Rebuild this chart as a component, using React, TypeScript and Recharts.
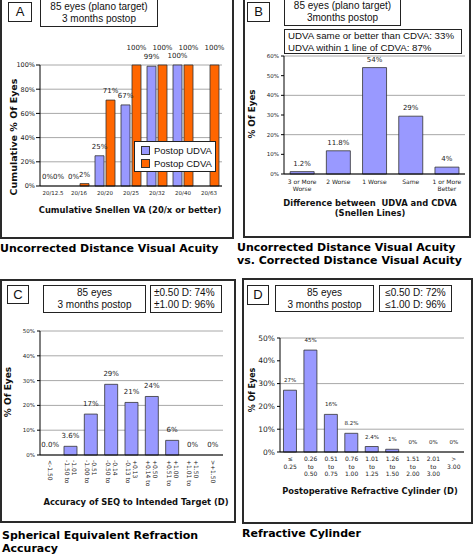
import { ComposedChart, Bar, Line, XAxis, YAxis, CartesianGrid, LabelList, Legend } from 'recharts'

// A: cumulative Snellen VA
const vaCats = ['20/12.5', '20/16', '20/20', '20/25', '20/32', '20/40', '20/63']
const udva = [0, 0, 25, 67, 99, 100, null]
const cdva = [0, 2, 71, 100, 100, 100, 100]
const seriesA = ['Postop UDVA', 'Postop CDVA']

// B: UDVA vs CDVA difference
const diffCats = ['3 or More\nWorse', '2 Worse', '1 Worse', 'Same', '1 or More\nBetter']
const diffVals = [1.2, 11.8, 54.1, 29.4, 3.5]
const diffLabels = ['1.2%', '11.8%', '54%', '29%', '4%']

// C: SEQ accuracy
const seqCats = ['<-1.50', '-1.50 to\n-1.01', '-1.00 to\n-0.51', '-0.50 to\n-0.14', '-0.13 to\n+0.13', '+0.14 to\n+0.50', '+0.51 to\n+1.00', '+1.01 to\n+1.50', '>+1.50']
const seqVals = [0, 3.5, 16.5, 28.5, 21.2, 23.6, 5.9, 0, 0]
const seqLabels = ['0.0%', '3.6%', '17%', '29%', '21%', '24%', '6%', '0%', '0%']

// D: refractive cylinder
const cylCats = ['≤\n0.25', '0.26\nto\n0.50', '0.51\nto\n0.75', '0.76\nto\n1.00', '1.01\nto\n1.25', '1.26\nto\n1.50', '1.51\nto\n2.00', '2.01\nto\n3.00', '>\n3.00']
const cylVals = [27.1, 44.7, 16.5, 8.2, 2.4, 1.2, 0, 0, 0]
const cylLabels = ['27%', '45%', '16%', '8.2%', '2.4%', '1%', '0%', '0%', '0%']

const pct = (v: number | null) => (v == null ? null : `${v}%`)

const dataA = vaCats.map((c, i) => ({ cat: c, udva: udva[i], cdva: cdva[i], lu: pct(udva[i]), lc: pct(cdva[i]) }))
const dataB = diffCats.map((c, i) => ({ cat: c, v: diffVals[i], lbl: diffLabels[i] }))
const dataC = seqCats.map((c, i) => ({ cat: c, v: seqVals[i], lbl: seqLabels[i] }))
const dataD = cylCats.map((c, i) => ({ cat: c, v: cylVals[i], lbl: cylLabels[i] }))

const LAV = '#9999FF'
const ORANGE = '#FF6600'
const GRID = '#a8a8a8'
const TXT = '#222'
const VER = '"DejaVu Sans", Verdana, sans-serif'
const ARIAL = '"Liberation Sans", Arial, sans-serif'

// label drawn at a (hidden) line point, so zero values get one too
const pointLabel = (fontSize: number, gap: number, dx = 0, lift = 0) => (props: any) => {
  const vb = props.viewBox || {}
  const x = props.x ?? vb.x
  const y = props.y ?? vb.y
  const { value } = props
  if (value == null || x == null || y == null) return null
  const extra = value === '100%' ? lift : 0
  return (
    <text x={x + dx} y={y - gap - extra} textAnchor="middle" fontSize={fontSize} fill={TXT} fontFamily={VER}>
      {value}
    </text>
  )
}

const multiTick = (fontSize: number, dy0: number, lineH: number) => (props: any) => {
  const { x, y, payload } = props
  const lines = String(payload.value).split('\n')
  return (
    <text x={x} y={y + dy0} textAnchor="middle" fontSize={fontSize} fill={TXT} fontFamily={VER}>
      {lines.map((l, i) => (
        <tspan key={i} x={x} dy={i === 0 ? 0 : lineH}>{l}</tspan>
      ))}
    </text>
  )
}

const rotTick = (props: any) => {
  const { x, y, payload } = props
  const lines = String(payload.value).split('\n')
  const lh = 7
  const base = 2 + ((lines.length - 1) * lh) / 2
  return (
    <g transform={`translate(${x},${y + 5}) rotate(90)`}>
      {lines.map((l, i) => (
        <text key={i} x={0} y={base - i * lh} textAnchor="start" fontSize={6} fill={TXT} fontFamily={VER}>{l}</text>
      ))}
    </g>
  )
}

const legendA = (props: any) => {
  const items = (props.payload || [])
    .filter((p: any) => p.type !== 'none')
    .sort((a: any, b: any) => seriesA.indexOf(a.value) - seriesA.indexOf(b.value))
  return (
    <div style={{
      width: 82, height: 31, boxSizing: 'border-box', border: '1.5px solid #222', background: '#fff',
      padding: '2px 0 0 6px', fontFamily: ARIAL, fontSize: 9.5, color: '#111',
    }}>
      {items.map((p: any) => (
        <div key={p.value} style={{ display: 'flex', alignItems: 'center', height: 13 }}>
          <span style={{ width: 7, height: 7, background: p.color, border: '1px solid #333', marginRight: 4 }} />
          <span>{p.value}</span>
        </div>
      ))}
    </div>
  )
}

const Box = ({ l, t, w, h, children, style }: any) => (
  <div style={{
    position: 'absolute', left: l, top: t, width: w, height: h, boxSizing: 'border-box',
    border: '1.5px solid #222', background: '#fff', fontFamily: ARIAL, fontSize: 10,
    lineHeight: '12px', color: '#111', display: 'flex', flexDirection: 'column',
    justifyContent: 'center', alignItems: 'center', textAlign: 'center', ...style,
  }}>{children}</div>
)

const Letter = ({ l, t, w, h, c }: any) => (
  <Box l={l} t={t} w={w} h={h} style={{ fontSize: 13 }}>{c}</Box>
)

const VTitle = ({ cx, cy, text, size }: any) => (
  <div style={{
    position: 'absolute', left: cx, top: cy, transform: 'translate(-50%,-50%) rotate(-90deg)',
    whiteSpace: 'nowrap', fontFamily: VER, fontWeight: 'bold', fontSize: size, color: '#111',
  }}>{text}</div>
)

const HTitle = ({ cx, cy, children, size }: any) => (
  <div style={{
    position: 'absolute', left: cx, top: cy, transform: 'translate(-50%,-50%)', textAlign: 'center',
    whiteSpace: 'nowrap', fontFamily: VER, fontWeight: 'bold', fontSize: size, lineHeight: '10px', color: '#111',
  }}>{children}</div>
)

const Caption = ({ l, t, children }: any) => (
  <div style={{
    position: 'absolute', left: l, top: t, whiteSpace: 'nowrap', fontFamily: VER, fontWeight: 'bold',
    fontSize: 11, lineHeight: '13px', color: '#000',
  }}>{children}</div>
)

const Panel = ({ l, t, r, b }: any) => (
  <div style={{ position: 'absolute', left: l, top: t, width: r - l, height: b - t, boxSizing: 'border-box', border: '2px solid #2a2a2a' }} />
)

const abs = (l: number, t: number) => ({ position: 'absolute' as const, left: l, top: t })

const hiddenLine = (key: string, lblKey: string, label: any) => (
  <Line dataKey={key} stroke="none" dot={false} activeDot={false} legendType="none" isAnimationActive={false}>
    <LabelList dataKey={lblKey} content={label} />
  </Line>
)

export default function App() {
  return (
    <div style={{ position: 'absolute', left: 0, top: 0, width: 474, height: 556, background: '#fff', overflow: 'hidden' }}>
      <Panel l={0} t={-2} r={234} b={239} />
      <Panel l={243} t={-2} r={471} b={238} />
      <Panel l={0} t={279} r={236} b={523} />
      <Panel l={242} t={278} r={473} b={524} />

      {/* A */}
      <div style={abs(0, 0)}>
        <ComposedChart width={233} height={200} data={dataA} margin={{ top: 65, right: 11, left: 0, bottom: 0 }} barCategoryGap={3} barGap={2}>
          <CartesianGrid vertical={false} stroke={GRID} />
          <XAxis dataKey="cat" height={14} tickSize={0} tickMargin={0} axisLine={{ stroke: '#000' }} tick={multiTick(5.5, 9, 7)} interval={0} />
          <YAxis width={40} domain={[0, 100]} ticks={[0, 20, 40, 60, 80, 100]} tickFormatter={pct} tickSize={4} tickMargin={1}
            axisLine={{ stroke: '#000' }} tickLine={{ stroke: '#000' }} tick={{ fontSize: 6.5, fill: TXT, fontFamily: VER }} />
          <YAxis yAxisId="r" orientation="right" width={0} tick={false} tickLine={false} axisLine={{ stroke: GRID }} />
          <Legend layout="vertical" align="center" verticalAlign="middle" content={legendA}
            wrapperStyle={{ left: 134, top: 141, width: 82, height: 31 }} />
          <Bar dataKey="udva" name={seriesA[0]} fill={LAV} stroke="#333" strokeWidth={0.8} isAnimationActive={false} />
          <Bar dataKey="cdva" name={seriesA[1]} fill={ORANGE} stroke="#333" strokeWidth={0.8} isAnimationActive={false} />
          {hiddenLine('udva', 'lu', pointLabel(7, 7, -5.5))}
          {hiddenLine('cdva', 'lc', pointLabel(7, 7, 5.5, 8))}
        </ComposedChart>
      </div>
      <Letter l={8} t={2} w={24} h={20} c="A" />
      <Box l={40} t={-2} w={118} h={29}>
        <div>85 eyes (plano target)</div>
        <div>3 months postop</div>
      </Box>
      <VTitle cx={13} cy={137} text="Cumulative % Of Eyes" size={9.5} />
      <HTitle cx={130} cy={210} size={8.4}>Cumulative Snellen VA (20/x or better)</HTitle>
      <Caption l={0} t={242}>Uncorrected Distance Visual Acuity</Caption>

      {/* B */}
      <div style={abs(237, 0)}>
        <ComposedChart width={233} height={200} data={dataB} margin={{ top: 56, right: 5, left: 0, bottom: 0 }} barCategoryGap="17%">
          <CartesianGrid vertical={false} stroke={GRID} />
          <XAxis dataKey="cat" height={26} tickSize={0} tickMargin={0} axisLine={{ stroke: '#000' }} tick={multiTick(6, 10, 7)} interval={0} />
          <YAxis width={47} domain={[0, 60]} ticks={[0, 10, 20, 30, 40, 50, 60]} tickFormatter={pct} tickSize={3} tickMargin={2}
            axisLine={{ stroke: '#000' }} tickLine={{ stroke: '#000' }} tick={{ fontSize: 5.5, fill: TXT, fontFamily: VER }} />
          <YAxis yAxisId="r" orientation="right" width={0} tick={false} tickLine={false} axisLine={{ stroke: GRID }} />
          <Bar dataKey="v" fill={LAV} stroke="#333" strokeWidth={0.8} isAnimationActive={false} />
          {hiddenLine('v', 'lbl', pointLabel(7, 6))}
        </ComposedChart>
      </div>
      <Letter l={247} t={2} w={23} h={20} c="B" />
      <Box l={284} t={-2} w={117} h={28}>
        <div>85 eyes (plano target)</div>
        <div>3months postop</div>
      </Box>
      <Box l={284} t={29} w={178} h={25} style={{ alignItems: 'flex-start', textAlign: 'left', paddingLeft: 3, fontSize: 9.7 }}>
        <div>UDVA same or better than CDVA: 33%</div>
        <div>UDVA within 1 line of CDVA: 87%</div>
      </Box>
      <VTitle cx={252} cy={114} text="% Of Eyes" size={8.8} />
      <HTitle cx={370} cy={208} size={8.4}>
        <div>Difference between&nbsp; UDVA and CDVA</div>
        <div>(Snellen Lines)</div>
      </HTitle>
      <Caption l={237} t={241}>Uncorrected Distance Visual Acuity<br />vs. Corrected Distance Visual Acuity</Caption>

      {/* C */}
      <div style={abs(0, 280)}>
        <ComposedChart width={235} height={215} data={dataC} margin={{ top: 51, right: 12, left: 0, bottom: 0 }} barCategoryGap="18%">
          <CartesianGrid vertical={false} stroke={GRID} />
          <XAxis dataKey="cat" height={40} tickSize={0} tickMargin={0} axisLine={{ stroke: '#000' }} tick={rotTick} interval={0} />
          <YAxis width={40} domain={[0, 50]} ticks={[0, 10, 20, 30, 40, 50]} tickFormatter={pct} tickSize={3} tickMargin={2}
            axisLine={{ stroke: '#000' }} tickLine={{ stroke: '#000' }} tick={{ fontSize: 5.5, fill: TXT, fontFamily: VER }} />
          <YAxis yAxisId="r" orientation="right" width={0} tick={false} tickLine={false} axisLine={{ stroke: GRID }} />
          <Bar dataKey="v" fill={LAV} stroke="#333" strokeWidth={0.8} isAnimationActive={false} />
          {hiddenLine('v', 'lbl', pointLabel(7, 8))}
        </ComposedChart>
      </div>
      <Letter l={7} t={285} w={22} h={19} c="C" />
      <Box l={43} t={285} w={103} h={28}>
        <div>85 eyes</div>
        <div>3 months postop</div>
      </Box>
      <Box l={150} t={285} w={72} h={28} style={{ alignItems: 'flex-start', textAlign: 'left', paddingLeft: 3 }}>
        <div>±0.50 D: 74%</div>
        <div>±1.00 D: 96%</div>
      </Box>
      <VTitle cx={8} cy={392} text="% Of Eyes" size={9} />
      <HTitle cx={136} cy={502} size={8.4}>Accuracy of SEQ to Intended Target (D)</HTitle>
      <Caption l={2} t={529}>Spherical Equivalent Refraction<br />Accuracy</Caption>

      {/* D */}
      <div style={abs(243, 279)}>
        <ComposedChart width={229} height={200} data={dataD} margin={{ top: 59, right: 8, left: 0, bottom: 0 }} barCategoryGap="17%">
          <CartesianGrid vertical={false} stroke={GRID} />
          <XAxis dataKey="cat" height={27} tickSize={0} tickMargin={0} axisLine={{ stroke: '#000' }} tick={multiTick(6, 9, 7.5)} interval={0} />
          <YAxis width={37} domain={[0, 50]} ticks={[0, 10, 20, 30, 40, 50]} tickFormatter={pct} tickSize={3} tickMargin={2}
            axisLine={{ stroke: '#000' }} tickLine={{ stroke: '#000' }} tick={{ fontSize: 7.5, fill: TXT, fontFamily: VER }} />
          <YAxis yAxisId="r" orientation="right" width={0} tick={false} tickLine={false} axisLine={{ stroke: GRID }} />
          <Bar dataKey="v" fill={LAV} stroke="#333" strokeWidth={0.8} isAnimationActive={false} />
          {hiddenLine('v', 'lbl', pointLabel(5.5, 8))}
        </ComposedChart>
      </div>
      <Letter l={247} t={285} w={22} h={20} c="D" />
      <Box l={275} t={285} w={99} h={27}>
        <div>85 eyes</div>
        <div>3 months postop</div>
      </Box>
      <Box l={379} t={285} w={73} h={27}>
        <div>≤0.50 D: 72%</div>
        <div>≤1.00 D: 96%</div>
      </Box>
      <VTitle cx={252} cy={390} text="% Of Eyes" size={8} />
      <HTitle cx={370} cy={491} size={8.3}>Postoperative Refractive Cylinder (D)</HTitle>
      <Caption l={242} t={527}>Refractive Cylinder</Caption>
    </div>
  )
}
